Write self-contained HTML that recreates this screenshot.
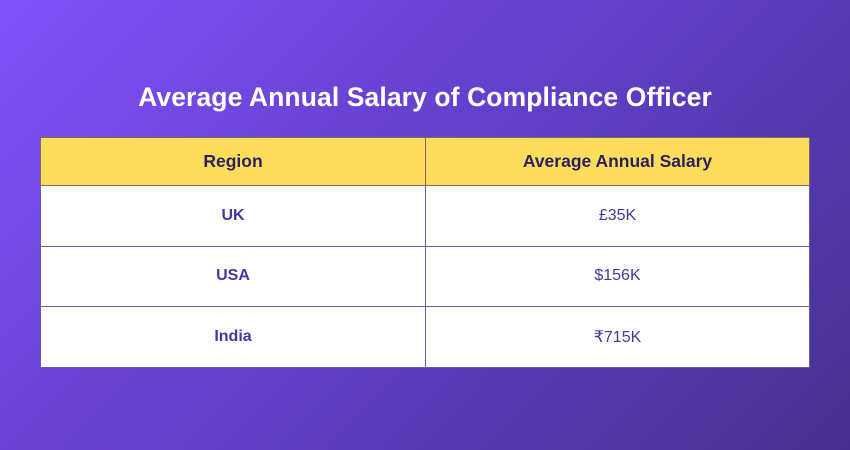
<!DOCTYPE html>
<html><head><style>
html,body{margin:0;padding:0}
body{width:850px;height:450px;overflow:hidden;position:relative;
background:linear-gradient(135deg,#8152fb 0%,#6a43d6 35%,#573bb6 65%,#45308f 100%);
font-family:"Liberation Sans","DejaVu Sans",sans-serif}
h1{position:absolute;top:80px;left:0;width:850px;text-align:center;margin:0;color:#fff;font-size:26.5px;font-weight:bold;line-height:34px;letter-spacing:0.1px}
table{position:absolute;left:40px;top:137px;width:770px;border-collapse:collapse;background:#fff}
td,th{text-align:center;border:1px solid #6e5aa8;padding:0;font-size:16px}
th{background:#ffdd5c;height:47px;color:#2b1f5c;font-weight:bold;font-size:17.5px;border-color:#7a6a60}
td{height:59.5px;color:#4a35a0}
td.b{font-weight:bold}
td.r{border-left-color:#b5aed6}
</style></head><body>
<h1>Average Annual Salary of Compliance Officer</h1>
<table>
<tr><th style="width:384px">Region</th><th>Average Annual Salary</th></tr>
<tr><td class="b">UK</td><td class="r">£35K</td></tr>
<tr><td class="b">USA</td><td class="r">$156K</td></tr>
<tr><td class="b">India</td><td class="r">₹715K</td></tr>
</table>
</body></html>
